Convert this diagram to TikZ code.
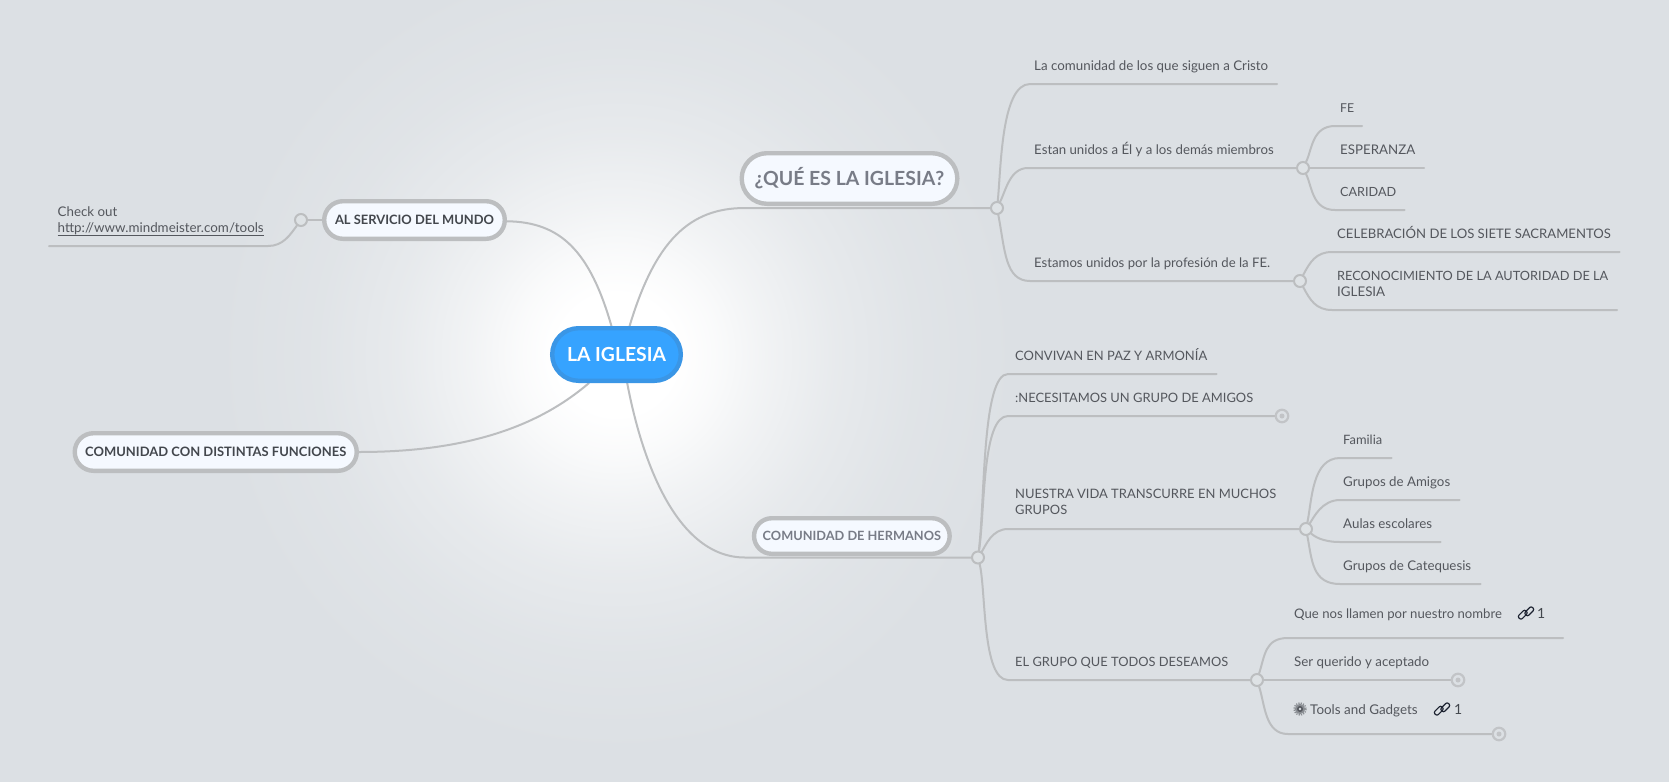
\documentclass[tikz,border=0pt]{standalone}
\usepackage{graphicx}
\usepackage{fontspec}
\setmainfont{Lato}
\usetikzlibrary{shapes.misc,backgrounds,shadows}
\definecolor{bgc}{HTML}{DCE0E4}
\definecolor{edgec}{HTML}{BCBEC0}
\definecolor{dotc}{HTML}{C2C4C7}
\definecolor{txtc}{HTML}{54575D}
\definecolor{boldc}{HTML}{43474D}
\definecolor{mutedc}{HTML}{787C87}
\definecolor{fillc}{HTML}{F5F9FF}
\definecolor{rootf}{HTML}{36A3FF}
\definecolor{rootb}{HTML}{3A96E6}
\definecolor{linkc}{HTML}{1C2230}
\pgfdeclareradialshading{bgglow}{\pgfpoint{0bp}{0bp}}{%
  color(0bp)=(white); color(3.75bp)=(white); color(6.25bp)=(white!85!bgc);
  color(9.4bp)=(white!60!bgc); color(13.75bp)=(white!32!bgc); color(18.75bp)=(white!12!bgc); color(25bp)=(bgc); color(100bp)=(bgc)}
\newcommand{\tw}[2]{\resizebox{#1pt}{!}{#2}}
\tikzset{
  conn/.style={draw=edgec,line width=2pt,line cap=round},
  hub/.style={circle,draw=edgec,line width=2pt,fill=bgc!95!white,minimum size=12pt,inner sep=0pt},
  endhub/.style={circle,draw=dotc,line width=2.2pt,fill=bgc,minimum size=12.5pt,inner sep=0pt},
  enddot/.style={circle,fill=dotc,minimum size=5pt,inner sep=0pt},
  leaf/.style={anchor=base west,inner sep=0pt,text=txtc,font=\fontsize{14}{16}\selectfont,align=left},
  topic/.style={rounded rectangle,draw=#1,inner sep=0pt,fill=fillc,line width=4.4pt,text=boldc,font=\bfseries\fontsize{14}{16}\selectfont},
  topic/.default=edgec,
  muted/.style={text=mutedc,drop shadow={shadow xshift=1pt,shadow yshift=-1.5pt,opacity=.22,fill=black}},
  linkicon/.pic={
    \draw[linkc,line width=1.15pt,rounded corners=2pt,rotate=45] (-8.5,-3.5) rectangle (1.5,1.3);
    \draw[linkc,line width=1.15pt,rounded corners=2pt,rotate=45] (-1.5,-1.3) rectangle (8.5,3.5);
  },
  gearicon/.pic={
    \fill[fill=txtc!60!bgc] (0,0) circle (5.2);
    \draw[txtc!60!bgc,line width=1.4pt,dash pattern=on 1.2pt off 1.2pt] (0,0) circle (6);
    \fill[fill=txtc] (0,0) circle (3);
    \fill[fill=bgc] (0,0) circle (1.3);
  },
}
\begin{document}
\begin{tikzpicture}[x=1pt,y=-1pt]
\useasboundingbox (0,0) rectangle (1669,782);
% main nodes
\node[rounded rectangle,draw=rootb,fill=rootf,line width=4.4pt,inner sep=0pt,text=white,
  font=\bfseries\fontsize{20}{22}\selectfont,minimum width=128.6pt,minimum height=52.6pt,
  text height=13pt,text depth=0pt] (root) at (616.5,354.5) {\tw{99}{LA IGLESIA}};
\node[topic,muted,minimum width=215.6pt,minimum height=50.6pt,font=\bfseries\fontsize{20}{22}\selectfont,
  text height=13pt,text depth=0pt] (que) at (849.5,178.5) {\tw{189.6}{¿QUÉ ES LA IGLESIA?}};
\node[topic,muted,minimum width=195.6pt,minimum height=35.6pt,text height=9pt,text depth=0pt] (herm) at (851.85,536) {\tw{178.3}{COMUNIDAD DE HERMANOS}};
\node[topic,minimum width=180.6pt,minimum height=37.6pt,text height=9pt,text depth=0pt] (serv) at (414.5,220) {\tw{159}{AL SERVICIO DEL MUNDO}};
\node[topic,minimum width=282pt,minimum height=37.6pt,text height=9pt,text depth=0pt] (func) at (215.75,452) {\tw{261}{COMUNIDAD CON DISTINTAS FUNCIONES}};
% hubs
\node[hub] (c0) at (301,220) {};
\node[hub] (c1) at (997,208) {};
\node[hub] (c2) at (1303,168) {};
\node[hub] (c3) at (1300,281) {};
\node[hub] (c4) at (978,557.5) {};
\node[hub] (c5) at (1306,529) {};
\node[hub] (c6) at (1257,680) {};
% collapsed-branch markers
\node[endhub] (d1) at (1282,416) {};
\node[endhub] (d2) at (1458,680) {};
\node[endhub] (d3) at (1499,734) {};
\node[enddot] (d1i) at (d1) {};
\node[enddot] (d2i) at (d2) {};
\node[enddot] (d3i) at (d3) {};
% leaf texts
\node[leaf] (chk) at (57.5,232) {\tw{59.6}{Check out}\\[0pt]\tw{206}{\underline{http://www.mindmeister.com/tools}}};
\node[leaf] (q1) at (1034,70) {\tw{234}{La comunidad de los que siguen a Cristo}};
\node[leaf] (q2) at (1034,154) {\tw{239.5}{Estan unidos a Él y a los demás miembros}};
\node[leaf] (q3) at (1034,267) {\tw{236}{Estamos unidos por la profesión de la FE.}};
\node[leaf] (q2a) at (1340,112) {\tw{14}{FE}};
\node[leaf] (q2b) at (1340,154) {\tw{75}{ESPERANZA}};
\node[leaf] (q2c) at (1340,196) {\tw{56}{CARIDAD}};
\node[leaf] (q3a) at (1337,238) {\tw{273.6}{CELEBRACIÓN DE LOS SIETE SACRAMENTOS}};
\node[leaf] (q3b) at (1337,296) {\tw{271}{RECONOCIMIENTO DE LA AUTORIDAD DE LA}\\[0pt]\tw{48}{IGLESIA}};
\node[leaf] (h1) at (1015,360) {\tw{192}{CONVIVAN EN PAZ Y ARMONÍA}};
\node[leaf] (h2) at (1015,402) {\tw{238}{:NECESITAMOS UN GRUPO DE AMIGOS}};
\node[leaf] (h3) at (1015,514.7) {\tw{261}{NUESTRA VIDA TRANSCURRE EN MUCHOS}\\[0pt]\tw{52}{GRUPOS}};
\node[leaf] (h4) at (1015,666) {\tw{213}{EL GRUPO QUE TODOS DESEAMOS}};
\node[leaf] (h3a) at (1343,444) {\tw{39}{Familia}};
\node[leaf] (h3b) at (1343,486) {\tw{107}{Grupos de Amigos}};
\node[leaf] (h3c) at (1343,528) {\tw{89}{Aulas escolares}};
\node[leaf] (h3d) at (1343,570) {\tw{128}{Grupos de Catequesis}};
\node[leaf] (h4a) at (1294,618) {\tw{207.7}{Que nos llamen por nuestro nombre}};
\node[leaf,text=boldc] (h4an) at (1537,618) {1};
\node[leaf] (h4b) at (1294,666) {\tw{135}{Ser querido y aceptado}};
\node[leaf] (h4c) at (1310,714) {\tw{107.5}{Tools and Gadgets}};
\node[leaf,text=boldc] (h4cn) at (1454,714) {1};
% icons
\pic at (1526,613) {linkicon};
\pic at (1442,709) {linkicon};
\pic at (1300,709) {gearicon};
% connector free ends
\coordinate (rq) at (629,328);
\coordinate (rs) at (612,328);
\coordinate (rf) at (589,383);
\coordinate (rh) at (627,382);
\coordinate (e0) at (49,246);
\coordinate (e1) at (1277,84);
\coordinate (e2a) at (1362,126);
\coordinate (e2b) at (1424,168);
\coordinate (e2c) at (1404.5,210);
\coordinate (e3a) at (1619.5,252);
\coordinate (e3b) at (1617,310);
\coordinate (e4a) at (1216.5,374);
\coordinate (e5a) at (1391.5,458);
\coordinate (e5b) at (1459.5,500);
\coordinate (e5c) at (1440.5,542);
\coordinate (e5d) at (1480.5,584);
\coordinate (e6a) at (1563,638);
% background and connectors
\begin{scope}[on background layer]
  \fill[bgc] (0,0) rectangle (1669,782);
  \shade[shading=bgglow] (616.5,354.5) circle (400);
  \draw[conn] (rq) .. controls (655,240) and (690,208) .. (745,208) -- (c1);
  \draw[conn] (rs) .. controls (590,250) and (560,222) .. (serv);
  \draw[conn] (rf) .. controls (540,425) and (470,452) .. (func);
  \draw[conn] (rh) .. controls (642,462) and (677,557.5) .. (745,557.5) -- (c4);
  \draw[conn] (serv) -- (c0);
  \draw[conn] (c0) .. controls (290,235) and (283,246) .. (268,246) -- (e0);
  \draw[conn] (c1) .. controls (1001,170) and (1001,84) .. (1030,84) -- (e1);
  \draw[conn] (c1) .. controls (1006,190) and (1010,168) .. (1028,168) -- (c2);
  \draw[conn] (c1) .. controls (1005,250) and (1005,281) .. (1030,281) -- (c3);
  \draw[conn] (c2) .. controls (1312,150) and (1312,126) .. (1335,126) -- (e2a);
  \draw[conn] (c2) -- (e2b);
  \draw[conn] (c2) .. controls (1312,186) and (1312,210) .. (1335,210) -- (e2c);
  \draw[conn] (c3) .. controls (1310,262) and (1316,252) .. (1332,252) -- (e3a);
  \draw[conn] (c3) .. controls (1310,300) and (1316,310) .. (1332,310) -- (e3b);
  \draw[conn] (c4) .. controls (985,500) and (982,374) .. (1008,374) -- (e4a);
  \draw[conn] (c4) .. controls (985,510) and (982,416) .. (1008,416) -- (d1);
  \draw[conn] (c4) .. controls (986,545) and (992,529) .. (1008,529) -- (c5);
  \draw[conn] (c4) .. controls (986,590) and (982,680) .. (1008,680) -- (c6);
  \draw[conn] (c5) .. controls (1312,500) and (1312,458) .. (1340,458) -- (e5a);
  \draw[conn] (c5) .. controls (1314,517) and (1322,500) .. (1340,500) -- (e5b);
  \draw[conn] (c5) .. controls (1314,536) and (1322,542) .. (1340,542) -- (e5c);
  \draw[conn] (c5) .. controls (1312,560) and (1312,584) .. (1340,584) -- (e5d);
  \draw[conn] (c6) .. controls (1265,655) and (1265,638) .. (1288,638) -- (e6a);
  \draw[conn] (c6) -- (d2);
  \draw[conn] (c6) .. controls (1265,705) and (1265,734) .. (1288,734) -- (d3);
\end{scope}
\end{tikzpicture}
\end{document}
